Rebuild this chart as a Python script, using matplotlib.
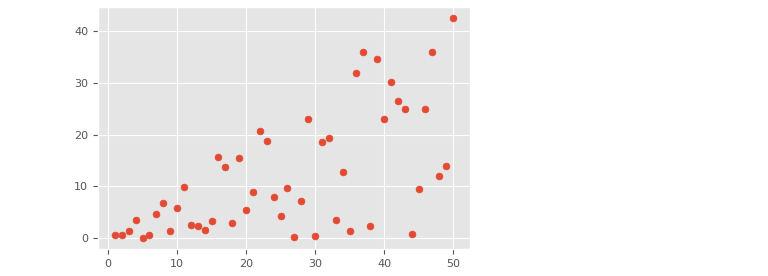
import matplotlib

matplotlib.use("Agg")
import matplotlib.pyplot as plt  # noqa: E402

plt.style.use("ggplot")

x_vals = list(range(1, 51))
y_vals = [
    0.65, 0.65, 1.3, 3.4, 0.0, 0.65, 4.7, 6.7, 1.3, 5.75,
    9.9, 2.6, 2.3, 1.5, 3.2, 15.7, 13.8, 3.0, 15.5, 5.4,
    9.0, 20.7, 18.7, 7.9, 4.3, 9.6, 0.2, 7.1, 23.0, 0.4,
    18.5, 19.4, 3.4, 12.8, 1.3, 32.0, 36.1, 2.3, 34.6, 23.0,
    30.3, 26.5, 24.9, 0.8, 9.4, 24.9, 36.1, 12.0, 13.9, 42.6,
]

fig = plt.figure(figsize=(7.68, 2.76), dpi=100)
ax = fig.add_axes([98 / 768, 27 / 276, 372 / 768, 242 / 276])
ax.scatter(x_vals, y_vals, s=24, color="#E24A33", zorder=3)
ax.set_xticks([0, 10, 20, 30, 40, 50])
ax.set_yticks([0, 10, 20, 30, 40])
ax.tick_params(labelsize=8, colors="#555555")

fig.savefig("out.png", dpi=100)
